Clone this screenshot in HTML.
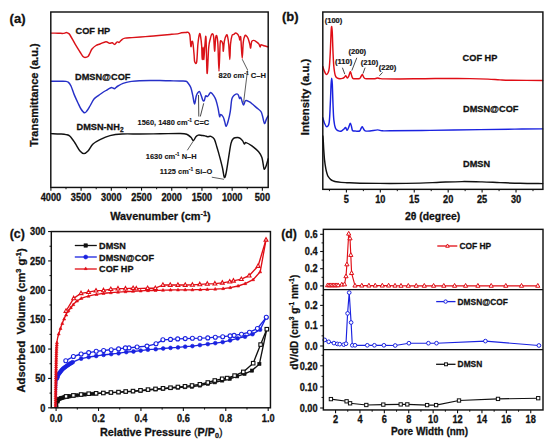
<!DOCTYPE html>
<html><head><meta charset="utf-8"><style>
html,body{margin:0;padding:0;background:#fff;width:550px;height:444px;overflow:hidden}
svg{display:block}
text{font-family:"Liberation Sans",sans-serif;stroke:#111;stroke-width:0.28px}
</style></head><body>
<svg width="550" height="444" viewBox="0 0 550 444" font-family="Liberation Sans, sans-serif" fill="#111">
<rect width="550" height="444" fill="#fff"/>
<text x="9.6" y="23.2" font-size="13" font-weight="bold" text-anchor="start" >(a)</text>
<text transform="translate(38.3,95.15) rotate(-90)" font-size="10.7" font-weight="bold" text-anchor="middle" textLength="103.8" lengthAdjust="spacingAndGlyphs">Transmittance (a.u.)</text>
<path d="M51.00,33.10 C52.17,33.12 56.00,33.15 58.00,33.20 C60.00,33.25 61.78,33.45 63.00,33.40 C64.22,33.35 64.67,33.03 65.30,32.90 C65.93,32.77 66.30,32.53 66.80,32.60 C67.30,32.67 67.77,32.90 68.30,33.30 C68.83,33.70 68.83,33.15 70.00,35.00 C71.17,36.85 73.63,41.57 75.30,44.40 C76.97,47.23 78.72,49.98 80.00,52.00 C81.28,54.02 82.17,55.60 83.00,56.50 C83.83,57.40 84.17,57.40 85.00,57.40 C85.83,57.40 87.17,57.23 88.00,56.50 C88.83,55.77 89.33,54.25 90.00,53.00 C90.67,51.75 91.00,50.25 92.00,49.00 C93.00,47.75 94.67,46.33 96.00,45.50 C97.33,44.67 98.35,44.63 100.00,44.00 C101.65,43.37 104.32,41.83 105.90,41.70 C107.48,41.57 108.43,43.02 109.50,43.20 C110.57,43.38 111.45,42.60 112.30,42.80 C113.15,43.00 113.78,44.55 114.60,44.40 C115.42,44.25 116.47,42.22 117.20,41.90 C117.93,41.58 118.45,42.65 119.00,42.50 C119.55,42.35 119.95,41.53 120.50,41.00 C121.05,40.47 121.55,39.78 122.30,39.30 C123.05,38.82 123.38,38.38 125.00,38.10 C126.62,37.82 129.42,37.78 132.00,37.60 C134.58,37.42 137.50,37.23 140.50,37.00 C143.50,36.77 146.98,36.45 150.00,36.20 C153.02,35.95 155.27,35.78 158.60,35.50 C161.93,35.22 166.67,34.82 170.00,34.50 C173.33,34.18 176.70,33.88 178.60,33.60 C180.50,33.32 180.17,32.98 181.40,32.80 C182.63,32.62 184.87,32.57 186.00,32.50 C187.13,32.43 187.57,31.98 188.20,32.40 C188.83,32.82 189.35,32.65 189.80,35.00 C190.25,37.35 190.55,45.42 190.90,46.50 C191.25,47.58 191.55,42.00 191.90,41.50 C192.25,41.00 192.63,41.25 193.00,43.50 C193.37,45.75 193.82,51.95 194.10,55.00 C194.38,58.05 194.27,60.67 194.70,61.80 C195.13,62.93 196.17,64.73 196.70,61.80 C197.23,58.87 197.43,48.83 197.90,44.20 C198.37,39.57 199.05,35.27 199.50,34.00 C199.95,32.73 200.23,34.53 200.60,36.60 C200.97,38.67 201.43,42.60 201.70,46.40 C201.97,50.20 201.95,59.27 202.20,59.40 C202.45,59.53 202.93,47.20 203.20,47.20 C203.47,47.20 203.52,59.72 203.80,59.40 C204.08,59.08 204.53,48.92 204.90,45.30 C205.27,41.68 205.63,33.02 206.00,37.70 C206.37,42.38 206.65,71.77 207.10,73.40 C207.55,75.03 208.17,53.27 208.70,47.50 C209.23,41.73 209.77,41.05 210.30,38.80 C210.83,36.55 211.35,34.37 211.90,34.00 C212.45,33.63 213.15,33.73 213.60,36.60 C214.05,39.47 214.25,51.02 214.60,51.20 C214.95,51.38 215.33,40.22 215.70,37.70 C216.07,35.18 216.43,35.02 216.80,36.10 C217.17,37.18 217.53,38.35 217.90,44.20 C218.27,50.05 218.63,71.20 219.00,71.20 C219.37,71.20 219.75,49.23 220.10,44.20 C220.45,39.17 220.65,41.00 221.10,41.00 C221.55,41.00 222.43,42.50 222.80,44.20 C223.17,45.90 223.03,51.73 223.30,51.20 C223.57,50.67 223.87,43.70 224.40,41.00 C224.93,38.30 225.97,35.73 226.50,35.00 C227.03,34.27 227.23,35.07 227.60,36.60 C227.97,38.13 228.33,40.40 228.70,44.20 C229.07,48.00 229.50,59.40 229.80,59.40 C230.10,59.40 230.13,48.17 230.50,44.20 C230.87,40.23 231.48,37.22 232.00,35.60 C232.52,33.98 232.98,34.95 233.60,34.50 C234.22,34.05 234.98,32.90 235.70,32.90 C236.42,32.90 237.32,33.78 237.90,34.50 C238.48,35.22 238.88,36.30 239.20,37.20 C239.52,38.10 239.57,40.00 239.80,39.90 C240.03,39.80 240.38,36.23 240.60,36.60 C240.82,36.97 240.83,38.48 241.10,42.10 C241.37,45.72 241.83,58.30 242.20,58.30 C242.57,58.30 242.85,45.88 243.30,42.10 C243.75,38.32 244.37,36.60 244.90,35.60 C245.43,34.60 245.95,35.57 246.50,36.10 C247.05,36.63 247.65,37.45 248.20,38.80 C248.75,40.15 249.40,42.67 249.80,44.20 C250.20,45.73 250.28,48.45 250.60,48.00 C250.92,47.55 251.20,42.77 251.70,41.50 C252.20,40.23 252.75,40.30 253.60,40.40 C254.45,40.50 255.90,41.47 256.80,42.10 C257.70,42.73 258.45,43.40 259.00,44.20 C259.55,45.00 259.75,46.80 260.10,46.90 C260.45,47.00 260.48,44.98 261.10,44.80 C261.72,44.62 262.62,45.45 263.80,45.80 C264.98,46.15 267.47,46.72 268.20,46.90" fill="none" stroke="#da1218" stroke-width="1.45" stroke-linejoin="round" stroke-linecap="round"/>
<path d="M51.00,81.30 C52.50,81.30 57.50,81.28 60.00,81.30 C62.50,81.32 64.58,81.22 66.00,81.40 C67.42,81.58 67.67,81.63 68.50,82.40 C69.33,83.17 70.05,83.97 71.00,86.00 C71.95,88.03 73.03,91.77 74.20,94.60 C75.37,97.43 76.87,100.60 78.00,103.00 C79.13,105.40 79.93,107.37 81.00,109.00 C82.07,110.63 83.40,112.50 84.40,112.80 C85.40,113.10 86.07,111.93 87.00,110.80 C87.93,109.67 88.83,107.97 90.00,106.00 C91.17,104.03 92.67,100.70 94.00,99.00 C95.33,97.30 96.67,96.80 98.00,95.80 C99.33,94.80 100.67,93.88 102.00,93.00 C103.33,92.12 104.67,91.30 106.00,90.50 C107.33,89.70 109.00,88.68 110.00,88.20 C111.00,87.72 111.27,87.50 112.00,87.60 C112.73,87.70 113.73,88.82 114.40,88.80 C115.07,88.78 115.40,87.97 116.00,87.50 C116.60,87.03 116.83,86.68 118.00,86.00 C119.17,85.32 121.00,84.13 123.00,83.40 C125.00,82.67 127.17,82.03 130.00,81.60 C132.83,81.17 136.67,80.98 140.00,80.80 C143.33,80.62 146.67,80.55 150.00,80.50 C153.33,80.45 156.67,80.45 160.00,80.50 C163.33,80.55 166.67,80.72 170.00,80.80 C173.33,80.88 177.33,80.93 180.00,81.00 C182.67,81.07 184.67,80.87 186.00,81.20 C187.33,81.53 187.20,81.95 188.00,83.00 C188.80,84.05 190.00,85.40 190.80,87.50 C191.60,89.60 192.18,92.85 192.80,95.60 C193.42,98.35 193.93,103.90 194.50,104.00 C195.07,104.10 195.70,98.00 196.20,96.20 C196.70,94.40 196.95,93.98 197.50,93.20 C198.05,92.42 198.88,91.10 199.50,91.50 C200.12,91.90 200.63,94.13 201.20,95.60 C201.77,97.07 202.38,99.47 202.90,100.30 C203.42,101.13 203.85,101.33 204.30,100.60 C204.75,99.87 205.10,96.57 205.60,95.90 C206.10,95.23 206.73,96.82 207.30,96.60 C207.87,96.38 208.43,95.28 209.00,94.60 C209.57,93.92 209.92,92.33 210.70,92.50 C211.48,92.67 212.82,94.32 213.70,95.60 C214.58,96.88 215.27,98.07 216.00,100.20 C216.73,102.33 217.50,105.68 218.10,108.40 C218.70,111.12 219.18,115.48 219.60,116.50 C220.02,117.52 220.00,114.42 220.60,114.50 C221.20,114.58 222.52,115.82 223.20,117.00 C223.88,118.18 224.20,120.05 224.70,121.60 C225.20,123.15 225.60,126.47 226.20,126.30 C226.80,126.13 227.62,123.08 228.30,120.60 C228.98,118.12 229.72,114.97 230.30,111.40 C230.88,107.83 231.20,101.83 231.80,99.20 C232.40,96.57 233.05,96.48 233.90,95.60 C234.75,94.72 236.15,93.98 236.90,93.90 C237.65,93.82 237.97,94.33 238.40,95.10 C238.83,95.87 239.12,98.15 239.50,98.50 C239.88,98.85 240.28,96.75 240.70,97.20 C241.12,97.65 241.53,99.90 242.00,101.20 C242.47,102.50 242.90,105.08 243.50,105.00 C244.10,104.92 244.67,101.25 245.60,100.70 C246.53,100.15 247.92,101.10 249.10,101.70 C250.28,102.30 251.42,103.27 252.70,104.30 C253.98,105.33 255.45,106.72 256.80,107.90 C258.15,109.08 259.87,110.13 260.80,111.40 C261.73,112.67 261.80,113.50 262.40,115.50 C263.00,117.50 263.73,122.80 264.40,123.40 C265.07,124.00 265.77,120.37 266.40,119.10 C267.03,117.83 267.90,116.35 268.20,115.80" fill="none" stroke="#2630c8" stroke-width="1.45" stroke-linejoin="round" stroke-linecap="round"/>
<path d="M51.00,133.60 C52.50,133.67 57.50,133.83 60.00,134.00 C62.50,134.17 64.33,134.23 66.00,134.60 C67.67,134.97 68.50,134.80 70.00,136.20 C71.50,137.60 73.33,140.53 75.00,143.00 C76.67,145.47 78.50,149.23 80.00,151.00 C81.50,152.77 82.67,153.60 84.00,153.60 C85.33,153.60 86.50,152.60 88.00,151.00 C89.50,149.40 91.00,145.90 93.00,144.00 C95.00,142.10 97.17,141.00 100.00,139.60 C102.83,138.20 106.33,136.53 110.00,135.60 C113.67,134.67 117.00,134.27 122.00,134.00 C127.00,133.73 133.67,134.03 140.00,134.00 C146.33,133.97 153.33,133.88 160.00,133.80 C166.67,133.72 175.55,133.43 180.00,133.50 C184.45,133.57 184.88,133.57 186.70,134.20 C188.52,134.83 189.78,136.23 190.90,137.30 C192.02,138.37 192.57,140.70 193.40,140.60 C194.23,140.50 195.07,137.62 195.90,136.70 C196.73,135.78 197.38,135.30 198.40,135.10 C199.42,134.90 200.88,135.37 202.00,135.50 C203.12,135.63 204.17,135.70 205.10,135.90 C206.03,136.10 206.63,136.62 207.60,136.70 C208.57,136.78 209.78,135.98 210.90,136.40 C212.02,136.82 213.32,137.48 214.30,139.20 C215.28,140.92 216.10,144.48 216.80,146.70 C217.50,148.92 217.95,150.55 218.50,152.50 C219.05,154.45 219.42,155.73 220.10,158.40 C220.78,161.07 221.90,165.35 222.60,168.50 C223.30,171.65 223.73,176.47 224.30,177.30 C224.87,178.13 225.30,176.65 226.00,173.50 C226.70,170.35 227.67,163.42 228.50,158.40 C229.33,153.38 230.17,146.73 231.00,143.40 C231.83,140.07 232.38,139.38 233.50,138.40 C234.62,137.42 236.58,137.50 237.70,137.50 C238.82,137.50 239.37,137.83 240.20,138.40 C241.03,138.97 242.00,139.97 242.70,140.90 C243.40,141.83 243.83,143.72 244.40,144.00 C244.97,144.28 244.85,142.28 246.10,142.60 C247.35,142.92 249.82,144.37 251.90,145.90 C253.98,147.43 256.93,149.85 258.60,151.80 C260.27,153.75 261.07,155.10 261.90,157.60 C262.73,160.10 263.18,164.85 263.60,166.80 C264.02,168.75 263.98,169.43 264.40,169.30 C264.82,169.17 265.47,167.75 266.10,166.00 C266.73,164.25 267.85,160.00 268.20,158.80" fill="none" stroke="#111" stroke-width="1.45" stroke-linejoin="round" stroke-linecap="round"/>
<text x="75.5" y="34.2" font-size="9.2" font-weight="bold" text-anchor="start" >COF HP</text>
<text x="75.0" y="80.4" font-size="9.2" font-weight="bold" text-anchor="start" >DMSN@COF</text>
<text x="76.5" y="130.4" font-size="9.2" font-weight="bold" text-anchor="start" >DMSN-NH<tspan font-size="6.5" dy="2">2</tspan></text>
<text x="218.5" y="78.2" font-size="7.6" font-weight="bold" text-anchor="start" style="stroke-width:0.1px">820 cm<tspan font-size="5" dy="-3">-1</tspan><tspan dy="3"> C–H</tspan></text>
<line x1="242.2" y1="59.2" x2="247.6" y2="70.0" stroke="#333" stroke-width="0.8"/>
<line x1="243.6" y1="102.5" x2="247.5" y2="70.5" stroke="#333" stroke-width="0.8"/>
<text x="137.5" y="125.0" font-size="7.6" font-weight="bold" text-anchor="start" style="stroke-width:0.1px" textLength="71.7" lengthAdjust="spacingAndGlyphs">1560, 1480 cm<tspan font-size="5" dy="-3">-1</tspan><tspan dy="3"> C=C</tspan></text>
<line x1="198.5" y1="95" x2="198.8" y2="116.5" stroke="#333" stroke-width="0.9"/>
<line x1="203.7" y1="103.3" x2="200.3" y2="116.5" stroke="#333" stroke-width="0.9"/>
<text x="145.8" y="159.3" font-size="7.6" font-weight="bold" text-anchor="start" style="stroke-width:0.1px" textLength="50.8" lengthAdjust="spacingAndGlyphs">1630 cm<tspan font-size="5" dy="-3">-1</tspan><tspan dy="3"> N–H</tspan></text>
<line x1="193.2" y1="141.2" x2="187.3" y2="150.3" stroke="#333" stroke-width="0.8"/>
<text x="159.8" y="174.3" font-size="7.6" font-weight="bold" text-anchor="start" style="stroke-width:0.1px" textLength="52.4" lengthAdjust="spacingAndGlyphs">1125 cm<tspan font-size="5" dy="-3">-1</tspan><tspan dy="3"> Si–O</tspan></text>
<line x1="211.8" y1="177.2" x2="224.0" y2="179.3" stroke="#333" stroke-width="0.8"/>
<rect x="50.8" y="12.0" width="217.39999999999998" height="175.45" fill="none" stroke="#111" stroke-width="1.45"/>
<line x1="50.9" y1="187.45" x2="50.9" y2="190.64999999999998" stroke="#111" stroke-width="1.1"/>
<line x1="81.11" y1="187.45" x2="81.11" y2="190.64999999999998" stroke="#111" stroke-width="1.1"/>
<line x1="111.32" y1="187.45" x2="111.32" y2="190.64999999999998" stroke="#111" stroke-width="1.1"/>
<line x1="141.53" y1="187.45" x2="141.53" y2="190.64999999999998" stroke="#111" stroke-width="1.1"/>
<line x1="171.74" y1="187.45" x2="171.74" y2="190.64999999999998" stroke="#111" stroke-width="1.1"/>
<line x1="201.95000000000002" y1="187.45" x2="201.95000000000002" y2="190.64999999999998" stroke="#111" stroke-width="1.1"/>
<line x1="232.16" y1="187.45" x2="232.16" y2="190.64999999999998" stroke="#111" stroke-width="1.1"/>
<line x1="262.37" y1="187.45" x2="262.37" y2="190.64999999999998" stroke="#111" stroke-width="1.1"/>
<line x1="66.005" y1="187.45" x2="66.005" y2="189.25" stroke="#111" stroke-width="1.0"/>
<line x1="96.215" y1="187.45" x2="96.215" y2="189.25" stroke="#111" stroke-width="1.0"/>
<line x1="126.42500000000001" y1="187.45" x2="126.42500000000001" y2="189.25" stroke="#111" stroke-width="1.0"/>
<line x1="156.635" y1="187.45" x2="156.635" y2="189.25" stroke="#111" stroke-width="1.0"/>
<line x1="186.845" y1="187.45" x2="186.845" y2="189.25" stroke="#111" stroke-width="1.0"/>
<line x1="217.055" y1="187.45" x2="217.055" y2="189.25" stroke="#111" stroke-width="1.0"/>
<line x1="247.26500000000001" y1="187.45" x2="247.26500000000001" y2="189.25" stroke="#111" stroke-width="1.0"/>
<text transform="translate(50.90,201.44) scale(0.96,1.1)" font-size="9.6" font-weight="bold" text-anchor="middle" >4000</text>
<text transform="translate(81.11,201.44) scale(0.96,1.1)" font-size="9.6" font-weight="bold" text-anchor="middle" >3500</text>
<text transform="translate(111.32,201.44) scale(0.96,1.1)" font-size="9.6" font-weight="bold" text-anchor="middle" >3000</text>
<text transform="translate(141.53,201.44) scale(0.96,1.1)" font-size="9.6" font-weight="bold" text-anchor="middle" >2500</text>
<text transform="translate(171.74,201.44) scale(0.96,1.1)" font-size="9.6" font-weight="bold" text-anchor="middle" >2000</text>
<text transform="translate(201.95,201.44) scale(0.96,1.1)" font-size="9.6" font-weight="bold" text-anchor="middle" >1500</text>
<text transform="translate(232.16,201.44) scale(0.96,1.1)" font-size="9.6" font-weight="bold" text-anchor="middle" >1000</text>
<text transform="translate(262.37,201.44) scale(0.96,1.1)" font-size="9.6" font-weight="bold" text-anchor="middle" >500</text>
<text x="160.4" y="219.5" font-size="10.4" font-weight="bold" text-anchor="middle" textLength="100.4" lengthAdjust="spacingAndGlyphs">Wavenumber (cm<tspan font-size="7" dy="-4">-1</tspan><tspan dy="4">)</tspan></text>
<text x="282.0" y="21.3" font-size="13" font-weight="bold" text-anchor="start" >(b)</text>
<text transform="translate(309.2,97.0) rotate(-90)" font-size="10.7" font-weight="bold" text-anchor="middle" textLength="76.3" lengthAdjust="spacingAndGlyphs">Intensity (a.u.)</text>
<path d="M322.80,66.60 C323.05,67.33 323.73,69.70 324.30,71.00 C324.87,72.30 325.55,74.15 326.20,74.40 C326.85,74.65 327.68,73.65 328.20,72.50 C328.72,71.35 328.95,70.92 329.30,67.50 C329.65,64.08 330.00,57.92 330.30,52.00 C330.60,46.08 330.87,36.23 331.10,32.00 C331.33,27.77 331.50,26.43 331.70,26.60 C331.90,26.77 332.08,28.77 332.30,33.00 C332.52,37.23 332.75,46.50 333.00,52.00 C333.25,57.50 333.42,62.08 333.80,66.00 C334.18,69.92 334.68,73.47 335.30,75.50 C335.92,77.53 336.75,77.65 337.50,78.20 C338.25,78.75 338.97,78.77 339.80,78.80 C340.63,78.83 341.75,78.63 342.50,78.40 C343.25,78.17 343.75,77.83 344.30,77.40 C344.85,76.97 345.30,75.70 345.80,75.80 C346.30,75.90 346.83,77.88 347.30,78.00 C347.77,78.12 348.10,77.53 348.60,76.50 C349.10,75.47 349.80,71.97 350.30,71.80 C350.80,71.63 351.18,74.42 351.60,75.50 C352.02,76.58 352.07,77.75 352.80,78.30 C353.53,78.85 354.87,78.77 356.00,78.80 C357.13,78.83 358.77,78.88 359.60,78.50 C360.43,78.12 360.55,77.17 361.00,76.50 C361.45,75.83 361.87,74.42 362.30,74.50 C362.73,74.58 363.12,76.32 363.60,77.00 C364.08,77.68 364.13,78.30 365.20,78.60 C366.27,78.90 368.37,78.78 370.00,78.80 C371.63,78.82 373.72,78.83 375.00,78.70 C376.28,78.57 376.87,78.02 377.70,78.00 C378.53,77.98 378.78,78.45 380.00,78.60 C381.22,78.75 381.67,78.83 385.00,78.90 C388.33,78.97 393.33,79.03 400.00,79.00 C406.67,78.97 417.50,78.78 425.00,78.70 C432.50,78.62 437.50,78.52 445.00,78.50 C452.50,78.48 462.83,78.50 470.00,78.60 C477.17,78.70 483.00,78.88 488.00,79.10 C493.00,79.32 496.00,79.70 500.00,79.90 C504.00,80.10 504.88,80.22 512.00,80.30 C519.12,80.38 537.58,80.38 542.70,80.40" fill="none" stroke="#e00d15" stroke-width="1.45" stroke-linejoin="round" stroke-linecap="round"/>
<path d="M322.80,117.70 C323.08,118.62 323.83,121.68 324.50,123.20 C325.17,124.72 326.02,126.95 326.80,126.80 C327.58,126.65 328.62,126.10 329.20,122.30 C329.78,118.50 329.98,110.38 330.30,104.00 C330.62,97.62 330.87,88.32 331.10,84.00 C331.33,79.68 331.50,78.10 331.70,78.10 C331.90,78.10 332.08,79.68 332.30,84.00 C332.52,88.32 332.75,98.08 333.00,104.00 C333.25,109.92 333.38,115.47 333.80,119.50 C334.22,123.53 334.72,126.30 335.50,128.20 C336.28,130.10 337.48,130.43 338.50,130.90 C339.52,131.37 340.68,131.32 341.60,131.00 C342.52,130.68 343.33,129.58 344.00,129.00 C344.67,128.42 345.08,127.28 345.60,127.50 C346.12,127.72 346.60,130.30 347.10,130.30 C347.60,130.30 348.07,128.68 348.60,127.50 C349.13,126.32 349.80,123.28 350.30,123.20 C350.80,123.12 351.22,125.77 351.60,127.00 C351.98,128.23 351.87,129.92 352.60,130.60 C353.33,131.28 354.83,131.03 356.00,131.10 C357.17,131.17 358.77,131.43 359.60,131.00 C360.43,130.57 360.55,129.20 361.00,128.50 C361.45,127.80 361.87,126.72 362.30,126.80 C362.73,126.88 363.12,128.32 363.60,129.00 C364.08,129.68 364.13,130.57 365.20,130.90 C366.27,131.23 367.92,131.17 370.00,131.00 C372.08,130.83 375.70,129.93 377.70,129.90 C379.70,129.87 379.95,130.65 382.00,130.80 C384.05,130.95 382.00,130.87 390.00,130.80 C398.00,130.73 415.00,130.60 430.00,130.40 C445.00,130.20 465.83,129.82 480.00,129.60 C494.17,129.38 504.55,129.22 515.00,129.10 C525.45,128.98 538.08,128.93 542.70,128.90" fill="none" stroke="#1a22e0" stroke-width="1.45" stroke-linejoin="round" stroke-linecap="round"/>
<path d="M322.80,136.00 C322.88,136.92 323.15,139.33 323.30,141.50 C323.45,143.67 323.50,145.98 323.70,149.00 C323.90,152.02 324.15,156.33 324.50,159.60 C324.85,162.87 325.38,166.28 325.80,168.60 C326.22,170.92 326.62,172.20 327.00,173.50 C327.38,174.80 327.47,175.38 328.10,176.40 C328.73,177.42 329.90,178.83 330.80,179.60 C331.70,180.37 332.60,180.63 333.50,181.00 C334.40,181.37 334.95,181.57 336.20,181.80 C337.45,182.03 339.20,182.25 341.00,182.40 C342.80,182.55 343.83,182.57 347.00,182.70 C350.17,182.83 352.83,183.08 360.00,183.20 C367.17,183.32 380.00,183.42 390.00,183.40 C400.00,183.38 411.67,183.28 420.00,183.10 C428.33,182.92 433.00,182.55 440.00,182.30 C447.00,182.05 455.00,181.67 462.00,181.60 C469.00,181.53 475.67,181.73 482.00,181.90 C488.33,182.07 493.67,182.37 500.00,182.60 C506.33,182.83 512.88,183.13 520.00,183.30 C527.12,183.47 538.92,183.55 542.70,183.60" fill="none" stroke="#111" stroke-width="1.45" stroke-linejoin="round" stroke-linecap="round"/>
<text x="333.5" y="23.2" font-size="7.6" font-weight="bold" text-anchor="middle" style="stroke-width:0.2px">(100)</text>
<text x="343.7" y="64.4" font-size="7.6" font-weight="bold" text-anchor="middle" style="stroke-width:0.2px">(110)</text>
<text x="357.3" y="53.6" font-size="7.6" font-weight="bold" text-anchor="middle" style="stroke-width:0.2px">(200)</text>
<text x="369.5" y="64.5" font-size="7.6" font-weight="bold" text-anchor="middle" style="stroke-width:0.2px">(210)</text>
<text x="387.5" y="70.2" font-size="7.6" font-weight="bold" text-anchor="middle" style="stroke-width:0.2px">(220)</text>
<line x1="342.4" y1="67.7" x2="344.8" y2="74.2" stroke="#333" stroke-width="0.9"/>
<line x1="356.8" y1="57.8" x2="351.8" y2="70.6" stroke="#333" stroke-width="0.9"/>
<line x1="365.1" y1="67.7" x2="363.0" y2="73.5" stroke="#333" stroke-width="0.9"/>
<line x1="382.6" y1="72.4" x2="379.4" y2="75.8" stroke="#333" stroke-width="0.9"/>
<text x="462.6" y="61.0" font-size="9.2" font-weight="bold" text-anchor="start" >COF HP</text>
<text x="463.0" y="112.0" font-size="9.2" font-weight="bold" text-anchor="start" >DMSN@COF</text>
<text x="463.0" y="166.5" font-size="9.2" font-weight="bold" text-anchor="start" >DMSN</text>
<rect x="322.8" y="12.0" width="220.09999999999997" height="177.35" fill="none" stroke="#111" stroke-width="1.45"/>
<line x1="346.4" y1="189.35" x2="346.4" y2="192.54999999999998" stroke="#111" stroke-width="1.1"/>
<line x1="380.325" y1="189.35" x2="380.325" y2="192.54999999999998" stroke="#111" stroke-width="1.1"/>
<line x1="414.25" y1="189.35" x2="414.25" y2="192.54999999999998" stroke="#111" stroke-width="1.1"/>
<line x1="448.17499999999995" y1="189.35" x2="448.17499999999995" y2="192.54999999999998" stroke="#111" stroke-width="1.1"/>
<line x1="482.09999999999997" y1="189.35" x2="482.09999999999997" y2="192.54999999999998" stroke="#111" stroke-width="1.1"/>
<line x1="516.025" y1="189.35" x2="516.025" y2="192.54999999999998" stroke="#111" stroke-width="1.1"/>
<line x1="329.4375" y1="189.35" x2="329.4375" y2="191.15" stroke="#111" stroke-width="1.0"/>
<line x1="363.36249999999995" y1="189.35" x2="363.36249999999995" y2="191.15" stroke="#111" stroke-width="1.0"/>
<line x1="397.28749999999997" y1="189.35" x2="397.28749999999997" y2="191.15" stroke="#111" stroke-width="1.0"/>
<line x1="431.2125" y1="189.35" x2="431.2125" y2="191.15" stroke="#111" stroke-width="1.0"/>
<line x1="465.1375" y1="189.35" x2="465.1375" y2="191.15" stroke="#111" stroke-width="1.0"/>
<line x1="499.0625" y1="189.35" x2="499.0625" y2="191.15" stroke="#111" stroke-width="1.0"/>
<line x1="532.9875" y1="189.35" x2="532.9875" y2="191.15" stroke="#111" stroke-width="1.0"/>
<text transform="translate(346.40,203.24) scale(0.96,1.1)" font-size="9.6" font-weight="bold" text-anchor="middle" >5</text>
<text transform="translate(380.32,203.24) scale(0.96,1.1)" font-size="9.6" font-weight="bold" text-anchor="middle" >10</text>
<text transform="translate(414.25,203.24) scale(0.96,1.1)" font-size="9.6" font-weight="bold" text-anchor="middle" >15</text>
<text transform="translate(448.17,203.24) scale(0.96,1.1)" font-size="9.6" font-weight="bold" text-anchor="middle" >20</text>
<text transform="translate(482.10,203.24) scale(0.96,1.1)" font-size="9.6" font-weight="bold" text-anchor="middle" >25</text>
<text transform="translate(516.02,203.24) scale(0.96,1.1)" font-size="9.6" font-weight="bold" text-anchor="middle" >30</text>
<text x="432.6" y="219.6" font-size="10.4" font-weight="bold" text-anchor="middle" >2θ (degree)</text>
<text x="9.7" y="238.1" font-size="13" font-weight="bold" text-anchor="start"  textLength="15.2" lengthAdjust="spacingAndGlyphs">(c)</text>
<text transform="translate(25.0,320.4) rotate(-90)" font-size="10.5" font-weight="bold" text-anchor="middle" textLength="144" lengthAdjust="spacingAndGlyphs">Adsorbed&#160; Volume (cm<tspan font-size="7" dy="-4">3</tspan><tspan dy="4"> g</tspan><tspan font-size="7" dy="-4">-1</tspan><tspan dy="4">)</tspan></text>
<polyline points="57.8,407.6 57.5,403.0 57.6,400.2 58.5,399.2 60.0,398.6 62.0,397.9 64.0,397.3 66.0,396.9 68.0,396.5 70.0,396.2 73.4,395.7 77.0,395.3 81.1,394.9 84.9,394.5 88.7,394.1 92.5,393.8 96.1,393.5 103.3,393.1 110.9,392.7 118.5,392.3 125.7,391.8 133.0,391.3 140.5,390.8 148.0,390.1 155.5,389.4 163.0,388.8 170.5,388.2 178.0,387.6 185.0,387.2 192.0,386.7 199.9,385.5 207.8,383.8 214.8,382.3 222.2,380.5 229.7,378.8 237.1,376.3 244.5,373.9 252.0,370.6 259.4,363.9 266.8,329.2" fill="none" stroke="#111" stroke-width="1.35" stroke-linejoin="round" stroke-linecap="round" />
<polyline points="266.8,329.2 260.6,344.6 253.2,363.2 243.3,371.9 234.6,375.6 227.2,378.1 222.2,378.8 214.8,380.5 207.8,382.5 199.9,384.3 192.0,385.5 185.0,386.3 177.9,387.0 170.5,387.7 163.0,388.3 155.5,388.9 148.0,389.6 140.5,390.3 133.0,391.1 125.7,391.5 118.5,392.1 110.9,392.5 103.3,393.0 96.1,393.3 88.7,393.7 81.1,394.5 73.4,395.4 66.1,396.4" fill="none" stroke="#111" stroke-width="1.35" stroke-linejoin="round" stroke-linecap="round" />
<polyline points="56.0,407.5 56.2,398.0 56.4,390.0 56.7,384.0 57.0,378.5 58.0,375.0 60.0,372.3 62.6,369.0 65.8,366.6 69.5,364.0 73.4,361.8 77.3,360.1 81.1,358.7 84.9,357.8 88.7,357.1 92.5,356.5 96.2,356.0 100.0,355.4 103.6,354.9 107.4,354.5 111.2,354.1 114.9,353.7 118.6,353.3 122.3,352.6 126.3,352.1 133.5,351.5 140.7,350.6 147.9,349.7 155.7,349.2 163.2,348.5 170.5,347.9 178.0,347.4 185.2,346.7 192.4,346.1 199.9,345.1 207.8,344.1 215.3,343.1 222.7,342.1 230.1,340.4 237.6,338.4 245.0,336.7 252.5,334.2 260.1,329.7 266.3,317.3" fill="none" stroke="#1a22e0" stroke-width="1.35" stroke-linejoin="round" stroke-linecap="round" />
<polyline points="266.3,317.3 257.4,328.5 249.5,332.2 241.5,334.2 234.1,335.4 230.1,335.9 222.7,336.7 215.3,337.2 207.8,337.9 199.9,338.2 192.4,338.3 185.2,338.6 177.7,338.9 170.5,339.4 162.9,339.8 156.0,343.8 147.0,346.1 137.1,347.0 129.0,347.9 125.4,347.9 118.6,348.9 111.2,349.7 103.6,350.5 96.2,351.3 88.7,352.6 81.1,354.0 73.4,356.5 65.8,360.7" fill="none" stroke="#1a22e0" stroke-width="1.35" stroke-linejoin="round" stroke-linecap="round" />
<polyline points="55.4,407.5 55.5,398.0 55.6,388.0 55.7,378.0 55.9,368.0 56.1,358.0 56.4,348.0 56.9,342.0 57.6,338.0 58.7,333.9 60.0,330.0 61.0,326.8 62.2,323.5 63.4,320.5 64.6,317.6 65.8,315.0 67.0,312.6 68.5,310.6 70.4,308.6 71.9,306.5 73.3,304.2 77.0,301.0 81.3,298.4 84.8,297.2 88.5,296.2 92.5,295.2 96.5,294.4 100.0,293.8 103.5,293.4 107.0,293.0 110.8,292.7 114.5,292.4 118.0,292.1 122.0,291.9 125.5,291.7 129.0,291.5 133.0,291.3 137.0,291.1 140.7,290.9 144.5,290.7 148.0,290.6 152.0,290.5 155.5,290.4 159.5,290.3 163.0,290.2 167.0,290.1 170.5,290.0 174.0,289.9 178.0,289.9 181.5,289.9 185.2,289.8 189.0,289.8 192.4,289.8 196.0,289.7 200.3,289.6 207.3,289.4 215.2,289.1 223.1,288.6 230.2,287.6 238.1,286.0 245.2,283.6 253.1,279.7 260.2,271.8 266.0,239.8" fill="none" stroke="#e00d15" stroke-width="1.35" stroke-linejoin="round" stroke-linecap="round" />
<polyline points="266.0,239.8 258.1,266.0 249.1,275.7 241.3,279.2 233.4,280.8 229.7,281.7 222.3,282.8 214.9,283.6 207.3,283.9 199.8,284.4 192.4,284.9 185.2,285.0 177.9,285.0 170.2,285.0 162.9,285.0 155.3,288.2 147.6,288.2 136.3,288.6 133.1,288.2 125.5,288.6 118.0,288.6 110.8,289.2 103.5,290.4 96.0,290.7 88.5,292.1 81.0,293.3 73.7,298.4 66.0,311.0" fill="none" stroke="#e00d15" stroke-width="1.35" stroke-linejoin="round" stroke-linecap="round" />
<rect x="56.00" y="399.90" width="3.2" height="3.2" fill="#111" stroke="#111" stroke-width="0.6"/>
<rect x="56.47" y="398.69" width="3.2" height="3.2" fill="#111" stroke="#111" stroke-width="0.6"/>
<rect x="57.02" y="397.55" width="3.2" height="3.2" fill="#111" stroke="#111" stroke-width="0.6"/>
<rect x="58.23" y="397.07" width="3.2" height="3.2" fill="#111" stroke="#111" stroke-width="0.6"/>
<rect x="59.45" y="396.63" width="3.2" height="3.2" fill="#111" stroke="#111" stroke-width="0.6"/>
<rect x="60.68" y="396.22" width="3.2" height="3.2" fill="#111" stroke="#111" stroke-width="0.6"/>
<rect x="61.93" y="395.84" width="3.2" height="3.2" fill="#111" stroke="#111" stroke-width="0.6"/>
<rect x="63.19" y="395.54" width="3.2" height="3.2" fill="#111" stroke="#111" stroke-width="0.6"/>
<rect x="64.47" y="395.29" width="3.2" height="3.2" fill="#111" stroke="#111" stroke-width="0.6"/>
<rect x="65.74" y="395.03" width="3.2" height="3.2" fill="#111" stroke="#111" stroke-width="0.6"/>
<rect x="67.02" y="394.81" width="3.2" height="3.2" fill="#111" stroke="#111" stroke-width="0.6"/>
<rect x="68.31" y="394.61" width="3.2" height="3.2" fill="#111" stroke="#111" stroke-width="0.6"/>
<rect x="71.80" y="394.10" width="3.2" height="3.2" fill="#111" stroke="#111" stroke-width="0.6"/>
<rect x="75.40" y="393.70" width="3.2" height="3.2" fill="#111" stroke="#111" stroke-width="0.6"/>
<rect x="79.50" y="393.30" width="3.2" height="3.2" fill="#111" stroke="#111" stroke-width="0.6"/>
<rect x="83.30" y="392.90" width="3.2" height="3.2" fill="#111" stroke="#111" stroke-width="0.6"/>
<rect x="87.10" y="392.50" width="3.2" height="3.2" fill="#111" stroke="#111" stroke-width="0.6"/>
<rect x="90.90" y="392.20" width="3.2" height="3.2" fill="#111" stroke="#111" stroke-width="0.6"/>
<rect x="94.50" y="391.90" width="3.2" height="3.2" fill="#111" stroke="#111" stroke-width="0.6"/>
<rect x="101.70" y="391.50" width="3.2" height="3.2" fill="#111" stroke="#111" stroke-width="0.6"/>
<rect x="109.30" y="391.10" width="3.2" height="3.2" fill="#111" stroke="#111" stroke-width="0.6"/>
<rect x="116.90" y="390.70" width="3.2" height="3.2" fill="#111" stroke="#111" stroke-width="0.6"/>
<rect x="124.10" y="390.20" width="3.2" height="3.2" fill="#111" stroke="#111" stroke-width="0.6"/>
<rect x="131.40" y="389.70" width="3.2" height="3.2" fill="#111" stroke="#111" stroke-width="0.6"/>
<rect x="138.90" y="389.20" width="3.2" height="3.2" fill="#111" stroke="#111" stroke-width="0.6"/>
<rect x="146.40" y="388.50" width="3.2" height="3.2" fill="#111" stroke="#111" stroke-width="0.6"/>
<rect x="153.90" y="387.80" width="3.2" height="3.2" fill="#111" stroke="#111" stroke-width="0.6"/>
<rect x="161.40" y="387.20" width="3.2" height="3.2" fill="#111" stroke="#111" stroke-width="0.6"/>
<rect x="168.90" y="386.60" width="3.2" height="3.2" fill="#111" stroke="#111" stroke-width="0.6"/>
<rect x="176.40" y="386.00" width="3.2" height="3.2" fill="#111" stroke="#111" stroke-width="0.6"/>
<rect x="183.40" y="385.60" width="3.2" height="3.2" fill="#111" stroke="#111" stroke-width="0.6"/>
<rect x="190.40" y="385.10" width="3.2" height="3.2" fill="#111" stroke="#111" stroke-width="0.6"/>
<rect x="198.30" y="383.90" width="3.2" height="3.2" fill="#111" stroke="#111" stroke-width="0.6"/>
<rect x="206.20" y="382.20" width="3.2" height="3.2" fill="#111" stroke="#111" stroke-width="0.6"/>
<rect x="213.20" y="380.70" width="3.2" height="3.2" fill="#111" stroke="#111" stroke-width="0.6"/>
<rect x="220.60" y="378.90" width="3.2" height="3.2" fill="#111" stroke="#111" stroke-width="0.6"/>
<rect x="228.10" y="377.20" width="3.2" height="3.2" fill="#111" stroke="#111" stroke-width="0.6"/>
<rect x="235.50" y="374.70" width="3.2" height="3.2" fill="#111" stroke="#111" stroke-width="0.6"/>
<rect x="242.90" y="372.30" width="3.2" height="3.2" fill="#111" stroke="#111" stroke-width="0.6"/>
<rect x="250.40" y="369.00" width="3.2" height="3.2" fill="#111" stroke="#111" stroke-width="0.6"/>
<rect x="257.80" y="362.30" width="3.2" height="3.2" fill="#111" stroke="#111" stroke-width="0.6"/>
<rect x="265.20" y="327.60" width="3.2" height="3.2" fill="#111" stroke="#111" stroke-width="0.6"/>
<rect x="265.05" y="327.45" width="3.5" height="3.5" fill="white" stroke="#111" stroke-width="1.1"/>
<rect x="258.85" y="342.85" width="3.5" height="3.5" fill="white" stroke="#111" stroke-width="1.1"/>
<rect x="251.45" y="361.45" width="3.5" height="3.5" fill="white" stroke="#111" stroke-width="1.1"/>
<rect x="241.55" y="370.15" width="3.5" height="3.5" fill="white" stroke="#111" stroke-width="1.1"/>
<rect x="232.85" y="373.85" width="3.5" height="3.5" fill="white" stroke="#111" stroke-width="1.1"/>
<rect x="225.45" y="376.35" width="3.5" height="3.5" fill="white" stroke="#111" stroke-width="1.1"/>
<rect x="220.45" y="377.05" width="3.5" height="3.5" fill="white" stroke="#111" stroke-width="1.1"/>
<rect x="213.05" y="378.75" width="3.5" height="3.5" fill="white" stroke="#111" stroke-width="1.1"/>
<rect x="206.05" y="380.75" width="3.5" height="3.5" fill="white" stroke="#111" stroke-width="1.1"/>
<rect x="198.15" y="382.55" width="3.5" height="3.5" fill="white" stroke="#111" stroke-width="1.1"/>
<rect x="190.25" y="383.75" width="3.5" height="3.5" fill="white" stroke="#111" stroke-width="1.1"/>
<rect x="183.25" y="384.55" width="3.5" height="3.5" fill="white" stroke="#111" stroke-width="1.1"/>
<rect x="176.15" y="385.25" width="3.5" height="3.5" fill="white" stroke="#111" stroke-width="1.1"/>
<rect x="168.75" y="385.95" width="3.5" height="3.5" fill="white" stroke="#111" stroke-width="1.1"/>
<rect x="161.25" y="386.55" width="3.5" height="3.5" fill="white" stroke="#111" stroke-width="1.1"/>
<rect x="153.75" y="387.15" width="3.5" height="3.5" fill="white" stroke="#111" stroke-width="1.1"/>
<rect x="146.25" y="387.85" width="3.5" height="3.5" fill="white" stroke="#111" stroke-width="1.1"/>
<rect x="138.75" y="388.55" width="3.5" height="3.5" fill="white" stroke="#111" stroke-width="1.1"/>
<rect x="131.25" y="389.35" width="3.5" height="3.5" fill="white" stroke="#111" stroke-width="1.1"/>
<rect x="123.95" y="389.75" width="3.5" height="3.5" fill="white" stroke="#111" stroke-width="1.1"/>
<rect x="116.75" y="390.35" width="3.5" height="3.5" fill="white" stroke="#111" stroke-width="1.1"/>
<rect x="109.15" y="390.75" width="3.5" height="3.5" fill="white" stroke="#111" stroke-width="1.1"/>
<rect x="101.55" y="391.25" width="3.5" height="3.5" fill="white" stroke="#111" stroke-width="1.1"/>
<rect x="94.35" y="391.55" width="3.5" height="3.5" fill="white" stroke="#111" stroke-width="1.1"/>
<rect x="86.95" y="391.95" width="3.5" height="3.5" fill="white" stroke="#111" stroke-width="1.1"/>
<rect x="79.35" y="392.75" width="3.5" height="3.5" fill="white" stroke="#111" stroke-width="1.1"/>
<rect x="71.65" y="393.65" width="3.5" height="3.5" fill="white" stroke="#111" stroke-width="1.1"/>
<rect x="64.35" y="394.65" width="3.5" height="3.5" fill="white" stroke="#111" stroke-width="1.1"/>
<circle cx="57.00" cy="378.50" r="1.9" fill="#1a22e0" stroke="#1a22e0" stroke-width="0.6"/>
<circle cx="57.36" cy="377.25" r="1.9" fill="#1a22e0" stroke="#1a22e0" stroke-width="0.6"/>
<circle cx="57.71" cy="376.00" r="1.9" fill="#1a22e0" stroke="#1a22e0" stroke-width="0.6"/>
<circle cx="58.15" cy="374.79" r="1.9" fill="#1a22e0" stroke="#1a22e0" stroke-width="0.6"/>
<circle cx="58.93" cy="373.75" r="1.9" fill="#1a22e0" stroke="#1a22e0" stroke-width="0.6"/>
<circle cx="59.70" cy="372.70" r="1.9" fill="#1a22e0" stroke="#1a22e0" stroke-width="0.6"/>
<circle cx="60.50" cy="371.67" r="1.9" fill="#1a22e0" stroke="#1a22e0" stroke-width="0.6"/>
<circle cx="61.30" cy="370.65" r="1.9" fill="#1a22e0" stroke="#1a22e0" stroke-width="0.6"/>
<circle cx="62.10" cy="369.63" r="1.9" fill="#1a22e0" stroke="#1a22e0" stroke-width="0.6"/>
<circle cx="63.00" cy="368.70" r="1.9" fill="#1a22e0" stroke="#1a22e0" stroke-width="0.6"/>
<circle cx="64.04" cy="367.92" r="1.9" fill="#1a22e0" stroke="#1a22e0" stroke-width="0.6"/>
<circle cx="65.08" cy="367.14" r="1.9" fill="#1a22e0" stroke="#1a22e0" stroke-width="0.6"/>
<circle cx="66.13" cy="366.37" r="1.9" fill="#1a22e0" stroke="#1a22e0" stroke-width="0.6"/>
<circle cx="67.19" cy="365.62" r="1.9" fill="#1a22e0" stroke="#1a22e0" stroke-width="0.6"/>
<circle cx="68.25" cy="364.88" r="1.9" fill="#1a22e0" stroke="#1a22e0" stroke-width="0.6"/>
<circle cx="69.32" cy="364.13" r="1.9" fill="#1a22e0" stroke="#1a22e0" stroke-width="0.6"/>
<circle cx="70.44" cy="363.47" r="1.9" fill="#1a22e0" stroke="#1a22e0" stroke-width="0.6"/>
<circle cx="71.57" cy="362.83" r="1.9" fill="#1a22e0" stroke="#1a22e0" stroke-width="0.6"/>
<circle cx="72.70" cy="362.19" r="1.9" fill="#1a22e0" stroke="#1a22e0" stroke-width="0.6"/>
<circle cx="81.10" cy="358.70" r="1.9" fill="#1a22e0" stroke="#1a22e0" stroke-width="0.6"/>
<circle cx="88.70" cy="357.10" r="1.9" fill="#1a22e0" stroke="#1a22e0" stroke-width="0.6"/>
<circle cx="96.20" cy="356.00" r="1.9" fill="#1a22e0" stroke="#1a22e0" stroke-width="0.6"/>
<circle cx="103.60" cy="354.90" r="1.9" fill="#1a22e0" stroke="#1a22e0" stroke-width="0.6"/>
<circle cx="111.20" cy="354.10" r="1.9" fill="#1a22e0" stroke="#1a22e0" stroke-width="0.6"/>
<circle cx="118.60" cy="353.30" r="1.9" fill="#1a22e0" stroke="#1a22e0" stroke-width="0.6"/>
<circle cx="126.30" cy="352.10" r="1.9" fill="#1a22e0" stroke="#1a22e0" stroke-width="0.6"/>
<circle cx="133.50" cy="351.50" r="1.9" fill="#1a22e0" stroke="#1a22e0" stroke-width="0.6"/>
<circle cx="140.70" cy="350.60" r="1.9" fill="#1a22e0" stroke="#1a22e0" stroke-width="0.6"/>
<circle cx="147.90" cy="349.70" r="1.9" fill="#1a22e0" stroke="#1a22e0" stroke-width="0.6"/>
<circle cx="155.70" cy="349.20" r="1.9" fill="#1a22e0" stroke="#1a22e0" stroke-width="0.6"/>
<circle cx="163.20" cy="348.50" r="1.9" fill="#1a22e0" stroke="#1a22e0" stroke-width="0.6"/>
<circle cx="170.50" cy="347.90" r="1.9" fill="#1a22e0" stroke="#1a22e0" stroke-width="0.6"/>
<circle cx="178.00" cy="347.40" r="1.9" fill="#1a22e0" stroke="#1a22e0" stroke-width="0.6"/>
<circle cx="185.20" cy="346.70" r="1.9" fill="#1a22e0" stroke="#1a22e0" stroke-width="0.6"/>
<circle cx="192.40" cy="346.10" r="1.9" fill="#1a22e0" stroke="#1a22e0" stroke-width="0.6"/>
<circle cx="199.90" cy="345.10" r="1.9" fill="#1a22e0" stroke="#1a22e0" stroke-width="0.6"/>
<circle cx="207.80" cy="344.10" r="1.9" fill="#1a22e0" stroke="#1a22e0" stroke-width="0.6"/>
<circle cx="215.30" cy="343.10" r="1.9" fill="#1a22e0" stroke="#1a22e0" stroke-width="0.6"/>
<circle cx="222.70" cy="342.10" r="1.9" fill="#1a22e0" stroke="#1a22e0" stroke-width="0.6"/>
<circle cx="230.10" cy="340.40" r="1.9" fill="#1a22e0" stroke="#1a22e0" stroke-width="0.6"/>
<circle cx="237.60" cy="338.40" r="1.9" fill="#1a22e0" stroke="#1a22e0" stroke-width="0.6"/>
<circle cx="245.00" cy="336.70" r="1.9" fill="#1a22e0" stroke="#1a22e0" stroke-width="0.6"/>
<circle cx="252.50" cy="334.20" r="1.9" fill="#1a22e0" stroke="#1a22e0" stroke-width="0.6"/>
<circle cx="260.10" cy="329.70" r="1.9" fill="#1a22e0" stroke="#1a22e0" stroke-width="0.6"/>
<circle cx="266.30" cy="317.30" r="1.9" fill="#1a22e0" stroke="#1a22e0" stroke-width="0.6"/>
<circle cx="266.30" cy="317.30" r="2.0" fill="white" stroke="#1a22e0" stroke-width="1.1"/>
<circle cx="257.40" cy="328.50" r="2.0" fill="white" stroke="#1a22e0" stroke-width="1.1"/>
<circle cx="249.50" cy="332.20" r="2.0" fill="white" stroke="#1a22e0" stroke-width="1.1"/>
<circle cx="241.50" cy="334.20" r="2.0" fill="white" stroke="#1a22e0" stroke-width="1.1"/>
<circle cx="234.10" cy="335.40" r="2.0" fill="white" stroke="#1a22e0" stroke-width="1.1"/>
<circle cx="230.10" cy="335.90" r="2.0" fill="white" stroke="#1a22e0" stroke-width="1.1"/>
<circle cx="222.70" cy="336.70" r="2.0" fill="white" stroke="#1a22e0" stroke-width="1.1"/>
<circle cx="215.30" cy="337.20" r="2.0" fill="white" stroke="#1a22e0" stroke-width="1.1"/>
<circle cx="207.80" cy="337.90" r="2.0" fill="white" stroke="#1a22e0" stroke-width="1.1"/>
<circle cx="199.90" cy="338.20" r="2.0" fill="white" stroke="#1a22e0" stroke-width="1.1"/>
<circle cx="192.40" cy="338.30" r="2.0" fill="white" stroke="#1a22e0" stroke-width="1.1"/>
<circle cx="185.20" cy="338.60" r="2.0" fill="white" stroke="#1a22e0" stroke-width="1.1"/>
<circle cx="177.70" cy="338.90" r="2.0" fill="white" stroke="#1a22e0" stroke-width="1.1"/>
<circle cx="170.50" cy="339.40" r="2.0" fill="white" stroke="#1a22e0" stroke-width="1.1"/>
<circle cx="162.90" cy="339.80" r="2.0" fill="white" stroke="#1a22e0" stroke-width="1.1"/>
<circle cx="156.00" cy="343.80" r="2.0" fill="white" stroke="#1a22e0" stroke-width="1.1"/>
<circle cx="147.00" cy="346.10" r="2.0" fill="white" stroke="#1a22e0" stroke-width="1.1"/>
<circle cx="137.10" cy="347.00" r="2.0" fill="white" stroke="#1a22e0" stroke-width="1.1"/>
<circle cx="129.00" cy="347.90" r="2.0" fill="white" stroke="#1a22e0" stroke-width="1.1"/>
<circle cx="125.40" cy="347.90" r="2.0" fill="white" stroke="#1a22e0" stroke-width="1.1"/>
<circle cx="118.60" cy="348.90" r="2.0" fill="white" stroke="#1a22e0" stroke-width="1.1"/>
<circle cx="111.20" cy="349.70" r="2.0" fill="white" stroke="#1a22e0" stroke-width="1.1"/>
<circle cx="103.60" cy="350.50" r="2.0" fill="white" stroke="#1a22e0" stroke-width="1.1"/>
<circle cx="96.20" cy="351.30" r="2.0" fill="white" stroke="#1a22e0" stroke-width="1.1"/>
<circle cx="88.70" cy="352.60" r="2.0" fill="white" stroke="#1a22e0" stroke-width="1.1"/>
<circle cx="81.10" cy="354.00" r="2.0" fill="white" stroke="#1a22e0" stroke-width="1.1"/>
<circle cx="73.40" cy="356.50" r="2.0" fill="white" stroke="#1a22e0" stroke-width="1.1"/>
<circle cx="65.80" cy="360.70" r="2.0" fill="white" stroke="#1a22e0" stroke-width="1.1"/>
<path d="M55.50,404.83 L57.00,407.53 L54.00,407.53Z" fill="#e00d15" stroke="#e00d15" stroke-width="0.6"/>
<path d="M55.53,402.63 L57.03,405.33 L54.03,405.33Z" fill="#e00d15" stroke="#e00d15" stroke-width="0.6"/>
<path d="M55.55,400.43 L57.05,403.13 L54.05,403.13Z" fill="#e00d15" stroke="#e00d15" stroke-width="0.6"/>
<path d="M55.58,398.23 L57.08,400.93 L54.08,400.93Z" fill="#e00d15" stroke="#e00d15" stroke-width="0.6"/>
<path d="M55.60,396.03 L57.10,398.73 L54.10,398.73Z" fill="#e00d15" stroke="#e00d15" stroke-width="0.6"/>
<path d="M55.62,393.83 L57.12,396.53 L54.12,396.53Z" fill="#e00d15" stroke="#e00d15" stroke-width="0.6"/>
<path d="M55.65,391.63 L57.15,394.33 L54.15,394.33Z" fill="#e00d15" stroke="#e00d15" stroke-width="0.6"/>
<path d="M55.67,389.43 L57.17,392.13 L54.17,392.13Z" fill="#e00d15" stroke="#e00d15" stroke-width="0.6"/>
<path d="M55.69,387.23 L57.19,389.93 L54.19,389.93Z" fill="#e00d15" stroke="#e00d15" stroke-width="0.6"/>
<path d="M55.73,385.03 L57.23,387.73 L54.23,387.73Z" fill="#e00d15" stroke="#e00d15" stroke-width="0.6"/>
<path d="M55.77,382.83 L57.27,385.53 L54.27,385.53Z" fill="#e00d15" stroke="#e00d15" stroke-width="0.6"/>
<path d="M55.81,380.63 L57.31,383.33 L54.31,383.33Z" fill="#e00d15" stroke="#e00d15" stroke-width="0.6"/>
<path d="M55.86,378.43 L57.36,381.13 L54.36,381.13Z" fill="#e00d15" stroke="#e00d15" stroke-width="0.6"/>
<path d="M55.90,376.23 L57.40,378.93 L54.40,378.93Z" fill="#e00d15" stroke="#e00d15" stroke-width="0.6"/>
<path d="M55.95,374.03 L57.45,376.73 L54.45,376.73Z" fill="#e00d15" stroke="#e00d15" stroke-width="0.6"/>
<path d="M55.99,371.83 L57.49,374.53 L54.49,374.53Z" fill="#e00d15" stroke="#e00d15" stroke-width="0.6"/>
<path d="M56.03,369.63 L57.53,372.33 L54.53,372.33Z" fill="#e00d15" stroke="#e00d15" stroke-width="0.6"/>
<path d="M56.08,367.43 L57.58,370.13 L54.58,370.13Z" fill="#e00d15" stroke="#e00d15" stroke-width="0.6"/>
<path d="M56.12,365.23 L57.62,367.93 L54.62,367.93Z" fill="#e00d15" stroke="#e00d15" stroke-width="0.6"/>
<path d="M56.17,363.03 L57.67,365.73 L54.67,365.73Z" fill="#e00d15" stroke="#e00d15" stroke-width="0.6"/>
<path d="M56.21,360.83 L57.71,363.53 L54.71,363.53Z" fill="#e00d15" stroke="#e00d15" stroke-width="0.6"/>
<path d="M56.25,358.63 L57.75,361.33 L54.75,361.33Z" fill="#e00d15" stroke="#e00d15" stroke-width="0.6"/>
<path d="M56.30,356.43 L57.80,359.13 L54.80,359.13Z" fill="#e00d15" stroke="#e00d15" stroke-width="0.6"/>
<path d="M56.36,354.23 L57.86,356.93 L54.86,356.93Z" fill="#e00d15" stroke="#e00d15" stroke-width="0.6"/>
<path d="M56.43,352.04 L57.93,354.74 L54.93,354.74Z" fill="#e00d15" stroke="#e00d15" stroke-width="0.6"/>
<path d="M56.49,349.84 L57.99,352.54 L54.99,352.54Z" fill="#e00d15" stroke="#e00d15" stroke-width="0.6"/>
<path d="M56.56,347.64 L58.06,350.34 L55.06,350.34Z" fill="#e00d15" stroke="#e00d15" stroke-width="0.6"/>
<path d="M56.66,345.44 L58.16,348.14 L55.16,348.14Z" fill="#e00d15" stroke="#e00d15" stroke-width="0.6"/>
<path d="M56.81,343.24 L58.31,345.94 L55.31,345.94Z" fill="#e00d15" stroke="#e00d15" stroke-width="0.6"/>
<path d="M56.95,341.05 L58.45,343.75 L55.45,343.75Z" fill="#e00d15" stroke="#e00d15" stroke-width="0.6"/>
<path d="M58.70,332.23 L60.20,334.93 L57.20,334.93Z" fill="#e00d15" stroke="#e00d15" stroke-width="0.6"/>
<path d="M60.50,326.83 L62.00,329.53 L59.00,329.53Z" fill="#e00d15" stroke="#e00d15" stroke-width="0.6"/>
<path d="M62.30,321.83 L63.80,324.53 L60.80,324.53Z" fill="#e00d15" stroke="#e00d15" stroke-width="0.6"/>
<path d="M64.20,317.33 L65.70,320.03 L62.70,320.03Z" fill="#e00d15" stroke="#e00d15" stroke-width="0.6"/>
<path d="M66.20,313.33 L67.70,316.03 L64.70,316.03Z" fill="#e00d15" stroke="#e00d15" stroke-width="0.6"/>
<path d="M68.50,309.13 L70.00,311.83 L67.00,311.83Z" fill="#e00d15" stroke="#e00d15" stroke-width="0.6"/>
<path d="M70.80,305.93 L72.30,308.63 L69.30,308.63Z" fill="#e00d15" stroke="#e00d15" stroke-width="0.6"/>
<path d="M73.30,302.93 L74.80,305.63 L71.80,305.63Z" fill="#e00d15" stroke="#e00d15" stroke-width="0.6"/>
<path d="M77.00,299.33 L78.50,302.03 L75.50,302.03Z" fill="#e00d15" stroke="#e00d15" stroke-width="0.6"/>
<path d="M81.30,296.73 L82.80,299.43 L79.80,299.43Z" fill="#e00d15" stroke="#e00d15" stroke-width="0.6"/>
<path d="M88.50,294.53 L90.00,297.23 L87.00,297.23Z" fill="#e00d15" stroke="#e00d15" stroke-width="0.6"/>
<path d="M96.50,292.73 L98.00,295.43 L95.00,295.43Z" fill="#e00d15" stroke="#e00d15" stroke-width="0.6"/>
<path d="M103.50,291.73 L105.00,294.43 L102.00,294.43Z" fill="#e00d15" stroke="#e00d15" stroke-width="0.6"/>
<path d="M110.80,291.03 L112.30,293.73 L109.30,293.73Z" fill="#e00d15" stroke="#e00d15" stroke-width="0.6"/>
<path d="M118.00,290.43 L119.50,293.13 L116.50,293.13Z" fill="#e00d15" stroke="#e00d15" stroke-width="0.6"/>
<path d="M125.50,290.03 L127.00,292.73 L124.00,292.73Z" fill="#e00d15" stroke="#e00d15" stroke-width="0.6"/>
<path d="M133.00,289.63 L134.50,292.33 L131.50,292.33Z" fill="#e00d15" stroke="#e00d15" stroke-width="0.6"/>
<path d="M140.70,289.23 L142.20,291.93 L139.20,291.93Z" fill="#e00d15" stroke="#e00d15" stroke-width="0.6"/>
<path d="M148.00,288.93 L149.50,291.63 L146.50,291.63Z" fill="#e00d15" stroke="#e00d15" stroke-width="0.6"/>
<path d="M155.50,288.73 L157.00,291.43 L154.00,291.43Z" fill="#e00d15" stroke="#e00d15" stroke-width="0.6"/>
<path d="M163.00,288.53 L164.50,291.23 L161.50,291.23Z" fill="#e00d15" stroke="#e00d15" stroke-width="0.6"/>
<path d="M170.50,288.33 L172.00,291.03 L169.00,291.03Z" fill="#e00d15" stroke="#e00d15" stroke-width="0.6"/>
<path d="M178.00,288.23 L179.50,290.93 L176.50,290.93Z" fill="#e00d15" stroke="#e00d15" stroke-width="0.6"/>
<path d="M185.20,288.13 L186.70,290.83 L183.70,290.83Z" fill="#e00d15" stroke="#e00d15" stroke-width="0.6"/>
<path d="M192.40,288.13 L193.90,290.83 L190.90,290.83Z" fill="#e00d15" stroke="#e00d15" stroke-width="0.6"/>
<path d="M200.30,287.93 L201.80,290.63 L198.80,290.63Z" fill="#e00d15" stroke="#e00d15" stroke-width="0.6"/>
<path d="M207.30,287.73 L208.80,290.43 L205.80,290.43Z" fill="#e00d15" stroke="#e00d15" stroke-width="0.6"/>
<path d="M215.20,287.43 L216.70,290.13 L213.70,290.13Z" fill="#e00d15" stroke="#e00d15" stroke-width="0.6"/>
<path d="M223.10,286.93 L224.60,289.63 L221.60,289.63Z" fill="#e00d15" stroke="#e00d15" stroke-width="0.6"/>
<path d="M230.20,285.93 L231.70,288.63 L228.70,288.63Z" fill="#e00d15" stroke="#e00d15" stroke-width="0.6"/>
<path d="M238.10,284.33 L239.60,287.03 L236.60,287.03Z" fill="#e00d15" stroke="#e00d15" stroke-width="0.6"/>
<path d="M245.20,281.93 L246.70,284.63 L243.70,284.63Z" fill="#e00d15" stroke="#e00d15" stroke-width="0.6"/>
<path d="M253.10,278.03 L254.60,280.73 L251.60,280.73Z" fill="#e00d15" stroke="#e00d15" stroke-width="0.6"/>
<path d="M260.20,270.13 L261.70,272.83 L258.70,272.83Z" fill="#e00d15" stroke="#e00d15" stroke-width="0.6"/>
<path d="M266.00,238.13 L267.50,240.83 L264.50,240.83Z" fill="#e00d15" stroke="#e00d15" stroke-width="0.6"/>
<path d="M266.00,237.62 L267.95,241.13 L264.05,241.13Z" fill="white" stroke="#e00d15" stroke-width="1.1"/>
<path d="M258.10,263.82 L260.05,267.33 L256.15,267.33Z" fill="white" stroke="#e00d15" stroke-width="1.1"/>
<path d="M249.10,273.52 L251.05,277.03 L247.15,277.03Z" fill="white" stroke="#e00d15" stroke-width="1.1"/>
<path d="M241.30,277.02 L243.25,280.53 L239.35,280.53Z" fill="white" stroke="#e00d15" stroke-width="1.1"/>
<path d="M233.40,278.62 L235.35,282.13 L231.45,282.13Z" fill="white" stroke="#e00d15" stroke-width="1.1"/>
<path d="M229.70,279.52 L231.65,283.03 L227.75,283.03Z" fill="white" stroke="#e00d15" stroke-width="1.1"/>
<path d="M222.30,280.62 L224.25,284.13 L220.35,284.13Z" fill="white" stroke="#e00d15" stroke-width="1.1"/>
<path d="M214.90,281.42 L216.85,284.93 L212.95,284.93Z" fill="white" stroke="#e00d15" stroke-width="1.1"/>
<path d="M207.30,281.72 L209.25,285.23 L205.35,285.23Z" fill="white" stroke="#e00d15" stroke-width="1.1"/>
<path d="M199.80,282.22 L201.75,285.73 L197.85,285.73Z" fill="white" stroke="#e00d15" stroke-width="1.1"/>
<path d="M192.40,282.72 L194.35,286.23 L190.45,286.23Z" fill="white" stroke="#e00d15" stroke-width="1.1"/>
<path d="M185.20,282.82 L187.15,286.33 L183.25,286.33Z" fill="white" stroke="#e00d15" stroke-width="1.1"/>
<path d="M177.90,282.82 L179.85,286.33 L175.95,286.33Z" fill="white" stroke="#e00d15" stroke-width="1.1"/>
<path d="M170.20,282.82 L172.15,286.33 L168.25,286.33Z" fill="white" stroke="#e00d15" stroke-width="1.1"/>
<path d="M162.90,282.82 L164.85,286.33 L160.95,286.33Z" fill="white" stroke="#e00d15" stroke-width="1.1"/>
<path d="M155.30,286.02 L157.25,289.53 L153.35,289.53Z" fill="white" stroke="#e00d15" stroke-width="1.1"/>
<path d="M147.60,286.02 L149.55,289.53 L145.65,289.53Z" fill="white" stroke="#e00d15" stroke-width="1.1"/>
<path d="M136.30,286.42 L138.25,289.93 L134.35,289.93Z" fill="white" stroke="#e00d15" stroke-width="1.1"/>
<path d="M133.10,286.02 L135.05,289.53 L131.15,289.53Z" fill="white" stroke="#e00d15" stroke-width="1.1"/>
<path d="M125.50,286.42 L127.45,289.93 L123.55,289.93Z" fill="white" stroke="#e00d15" stroke-width="1.1"/>
<path d="M118.00,286.42 L119.95,289.93 L116.05,289.93Z" fill="white" stroke="#e00d15" stroke-width="1.1"/>
<path d="M110.80,287.02 L112.75,290.53 L108.85,290.53Z" fill="white" stroke="#e00d15" stroke-width="1.1"/>
<path d="M103.50,288.22 L105.45,291.73 L101.55,291.73Z" fill="white" stroke="#e00d15" stroke-width="1.1"/>
<path d="M96.00,288.52 L97.95,292.03 L94.05,292.03Z" fill="white" stroke="#e00d15" stroke-width="1.1"/>
<path d="M88.50,289.92 L90.45,293.43 L86.55,293.43Z" fill="white" stroke="#e00d15" stroke-width="1.1"/>
<path d="M81.00,291.12 L82.95,294.63 L79.05,294.63Z" fill="white" stroke="#e00d15" stroke-width="1.1"/>
<path d="M73.70,296.22 L75.65,299.73 L71.75,299.73Z" fill="white" stroke="#e00d15" stroke-width="1.1"/>
<path d="M66.00,308.82 L67.95,312.33 L64.05,312.33Z" fill="white" stroke="#e00d15" stroke-width="1.1"/>
<rect x="51.3" y="231.55" width="219.14999999999998" height="176.25" fill="none" stroke="#111" stroke-width="1.45"/>
<line x1="48.099999999999994" y1="407.8" x2="51.3" y2="407.8" stroke="#111" stroke-width="1.1"/>
<line x1="48.099999999999994" y1="378.425" x2="51.3" y2="378.425" stroke="#111" stroke-width="1.1"/>
<line x1="48.099999999999994" y1="349.05" x2="51.3" y2="349.05" stroke="#111" stroke-width="1.1"/>
<line x1="48.099999999999994" y1="319.675" x2="51.3" y2="319.675" stroke="#111" stroke-width="1.1"/>
<line x1="48.099999999999994" y1="290.3" x2="51.3" y2="290.3" stroke="#111" stroke-width="1.1"/>
<line x1="48.099999999999994" y1="260.925" x2="51.3" y2="260.925" stroke="#111" stroke-width="1.1"/>
<line x1="48.099999999999994" y1="231.55" x2="51.3" y2="231.55" stroke="#111" stroke-width="1.1"/>
<line x1="49.5" y1="393.1125" x2="51.3" y2="393.1125" stroke="#111" stroke-width="1.0"/>
<line x1="49.5" y1="363.7375" x2="51.3" y2="363.7375" stroke="#111" stroke-width="1.0"/>
<line x1="49.5" y1="334.3625" x2="51.3" y2="334.3625" stroke="#111" stroke-width="1.0"/>
<line x1="49.5" y1="304.9875" x2="51.3" y2="304.9875" stroke="#111" stroke-width="1.0"/>
<line x1="49.5" y1="275.6125" x2="51.3" y2="275.6125" stroke="#111" stroke-width="1.0"/>
<line x1="49.5" y1="246.2375" x2="51.3" y2="246.2375" stroke="#111" stroke-width="1.0"/>
<text transform="translate(45.40,411.54) scale(0.96,1.1)" font-size="9.6" font-weight="bold" text-anchor="end" >0</text>
<text transform="translate(45.40,382.16) scale(0.96,1.1)" font-size="9.6" font-weight="bold" text-anchor="end" >50</text>
<text transform="translate(45.40,352.79) scale(0.96,1.1)" font-size="9.6" font-weight="bold" text-anchor="end" >100</text>
<text transform="translate(45.40,323.41) scale(0.96,1.1)" font-size="9.6" font-weight="bold" text-anchor="end" >150</text>
<text transform="translate(45.40,294.04) scale(0.96,1.1)" font-size="9.6" font-weight="bold" text-anchor="end" >200</text>
<text transform="translate(45.40,264.66) scale(0.96,1.1)" font-size="9.6" font-weight="bold" text-anchor="end" >250</text>
<text transform="translate(45.40,235.29) scale(0.96,1.1)" font-size="9.6" font-weight="bold" text-anchor="end" >300</text>
<line x1="56.1" y1="407.8" x2="56.1" y2="411.0" stroke="#111" stroke-width="1.1"/>
<line x1="98.52000000000001" y1="407.8" x2="98.52000000000001" y2="411.0" stroke="#111" stroke-width="1.1"/>
<line x1="140.94" y1="407.8" x2="140.94" y2="411.0" stroke="#111" stroke-width="1.1"/>
<line x1="183.35999999999999" y1="407.8" x2="183.35999999999999" y2="411.0" stroke="#111" stroke-width="1.1"/>
<line x1="225.78" y1="407.8" x2="225.78" y2="411.0" stroke="#111" stroke-width="1.1"/>
<line x1="268.2" y1="407.8" x2="268.2" y2="411.0" stroke="#111" stroke-width="1.1"/>
<line x1="77.31" y1="407.8" x2="77.31" y2="409.6" stroke="#111" stroke-width="1.0"/>
<line x1="119.72999999999999" y1="407.8" x2="119.72999999999999" y2="409.6" stroke="#111" stroke-width="1.0"/>
<line x1="162.15" y1="407.8" x2="162.15" y2="409.6" stroke="#111" stroke-width="1.0"/>
<line x1="204.57" y1="407.8" x2="204.57" y2="409.6" stroke="#111" stroke-width="1.0"/>
<line x1="246.98999999999998" y1="407.8" x2="246.98999999999998" y2="409.6" stroke="#111" stroke-width="1.0"/>
<text transform="translate(56.10,421.94) scale(0.96,1.1)" font-size="9.6" font-weight="bold" text-anchor="middle" >0.0</text>
<text transform="translate(98.52,421.94) scale(0.96,1.1)" font-size="9.6" font-weight="bold" text-anchor="middle" >0.2</text>
<text transform="translate(140.94,421.94) scale(0.96,1.1)" font-size="9.6" font-weight="bold" text-anchor="middle" >0.4</text>
<text transform="translate(183.36,421.94) scale(0.96,1.1)" font-size="9.6" font-weight="bold" text-anchor="middle" >0.6</text>
<text transform="translate(225.78,421.94) scale(0.96,1.1)" font-size="9.6" font-weight="bold" text-anchor="middle" >0.8</text>
<text transform="translate(268.20,421.94) scale(0.96,1.1)" font-size="9.6" font-weight="bold" text-anchor="middle" >1.0</text>
<text x="161.3" y="435.5" font-size="10.6" font-weight="bold" text-anchor="middle" textLength="122.6" lengthAdjust="spacingAndGlyphs">Relative Pressure <tspan font-weight="normal">(</tspan>P/P<tspan font-size="7" dy="2.5">0</tspan><tspan dy="-2.5" font-weight="normal">)</tspan></text>
<line x1="74.8" y1="245.5" x2="96.8" y2="245.5" stroke="#111" stroke-width="1.3"/>
<rect x="84.00" y="243.80" width="3.4" height="3.4" fill="#111" stroke="#111" stroke-width="0.6"/>
<line x1="74.8" y1="257.0" x2="96.8" y2="257.0" stroke="#1a22e0" stroke-width="1.3"/>
<circle cx="85.70" cy="257.00" r="2.0" fill="#1a22e0" stroke="#1a22e0" stroke-width="0.6"/>
<line x1="74.8" y1="269.0" x2="96.8" y2="269.0" stroke="#e00d15" stroke-width="1.3"/>
<path d="M85.70,266.93 L87.20,269.63 L84.20,269.63Z" fill="#e00d15" stroke="#e00d15" stroke-width="0.5"/>
<text x="99.1" y="249.2" font-size="9.1" font-weight="bold" text-anchor="start" >DMSN</text>
<text x="99.1" y="260.6" font-size="9.1" font-weight="bold" text-anchor="start" >DMSN@COF</text>
<text x="99.1" y="271.9" font-size="9.1" font-weight="bold" text-anchor="start" >COF HP</text>
<text x="281.2" y="238.4" font-size="13" font-weight="bold" text-anchor="start"  textLength="15.6" lengthAdjust="spacingAndGlyphs">(d)</text>
<text transform="translate(298.3,322.2) rotate(-90)" font-size="10" font-weight="bold" text-anchor="middle">dV/dD (cm<tspan font-size="6.6" dy="-4">3</tspan><tspan dy="4"> g</tspan><tspan font-size="6.6" dy="-4">-1</tspan><tspan dy="4"> nm</tspan><tspan font-size="6.6" dy="-4">-1</tspan><tspan dy="4">)</tspan></text>
<polyline points="327.6,285.3 329.1,285.3 330.6,285.3 332.1,285.3 333.6,285.3 335.1,285.3 336.6,285.3 338.1,285.3 341.8,284.6 344.5,284.4 346.0,276.3 346.9,264.4 348.7,233.7 350.0,238.4 350.8,255.0 351.6,273.1 355.0,285.6 361.8,285.6 368.9,285.6 375.2,285.6 382.3,285.6 388.6,285.6 395.0,285.7 401.0,285.8 408.3,285.8 416.2,285.8 424.3,285.8 433.6,285.8 443.8,285.8 454.6,285.8 465.6,285.8 477.9,285.8 491.2,285.8 505.8,285.8 521.5,285.8 537.8,285.8" fill="none" stroke="#e00d15" stroke-width="1.15" stroke-linejoin="round" stroke-linecap="round" />
<path d="M327.60,282.96 L329.70,286.74 L325.50,286.74Z" fill="white" stroke="#e00d15" stroke-width="1.0"/>
<path d="M329.10,282.96 L331.20,286.74 L327.00,286.74Z" fill="white" stroke="#e00d15" stroke-width="1.0"/>
<path d="M330.60,282.96 L332.70,286.74 L328.50,286.74Z" fill="white" stroke="#e00d15" stroke-width="1.0"/>
<path d="M332.10,282.96 L334.20,286.74 L330.00,286.74Z" fill="white" stroke="#e00d15" stroke-width="1.0"/>
<path d="M333.60,282.96 L335.70,286.74 L331.50,286.74Z" fill="white" stroke="#e00d15" stroke-width="1.0"/>
<path d="M335.10,282.96 L337.20,286.74 L333.00,286.74Z" fill="white" stroke="#e00d15" stroke-width="1.0"/>
<path d="M336.60,282.96 L338.70,286.74 L334.50,286.74Z" fill="white" stroke="#e00d15" stroke-width="1.0"/>
<path d="M338.10,282.96 L340.20,286.74 L336.00,286.74Z" fill="white" stroke="#e00d15" stroke-width="1.0"/>
<path d="M341.80,282.26 L343.90,286.04 L339.70,286.04Z" fill="white" stroke="#e00d15" stroke-width="1.0"/>
<path d="M344.50,282.06 L346.60,285.84 L342.40,285.84Z" fill="white" stroke="#e00d15" stroke-width="1.0"/>
<path d="M346.00,273.96 L348.10,277.74 L343.90,277.74Z" fill="white" stroke="#e00d15" stroke-width="1.0"/>
<path d="M346.90,262.06 L349.00,265.84 L344.80,265.84Z" fill="white" stroke="#e00d15" stroke-width="1.0"/>
<path d="M348.70,231.36 L350.80,235.14 L346.60,235.14Z" fill="white" stroke="#e00d15" stroke-width="1.0"/>
<path d="M350.00,236.06 L352.10,239.84 L347.90,239.84Z" fill="white" stroke="#e00d15" stroke-width="1.0"/>
<path d="M350.80,252.66 L352.90,256.44 L348.70,256.44Z" fill="white" stroke="#e00d15" stroke-width="1.0"/>
<path d="M351.60,270.76 L353.70,274.54 L349.50,274.54Z" fill="white" stroke="#e00d15" stroke-width="1.0"/>
<path d="M355.00,283.26 L357.10,287.04 L352.90,287.04Z" fill="white" stroke="#e00d15" stroke-width="1.0"/>
<path d="M361.80,283.26 L363.90,287.04 L359.70,287.04Z" fill="white" stroke="#e00d15" stroke-width="1.0"/>
<path d="M368.90,283.26 L371.00,287.04 L366.80,287.04Z" fill="white" stroke="#e00d15" stroke-width="1.0"/>
<path d="M375.20,283.26 L377.30,287.04 L373.10,287.04Z" fill="white" stroke="#e00d15" stroke-width="1.0"/>
<path d="M382.30,283.26 L384.40,287.04 L380.20,287.04Z" fill="white" stroke="#e00d15" stroke-width="1.0"/>
<path d="M388.60,283.26 L390.70,287.04 L386.50,287.04Z" fill="white" stroke="#e00d15" stroke-width="1.0"/>
<path d="M395.00,283.36 L397.10,287.14 L392.90,287.14Z" fill="white" stroke="#e00d15" stroke-width="1.0"/>
<path d="M401.00,283.46 L403.10,287.24 L398.90,287.24Z" fill="white" stroke="#e00d15" stroke-width="1.0"/>
<path d="M408.30,283.46 L410.40,287.24 L406.20,287.24Z" fill="white" stroke="#e00d15" stroke-width="1.0"/>
<path d="M416.20,283.46 L418.30,287.24 L414.10,287.24Z" fill="white" stroke="#e00d15" stroke-width="1.0"/>
<path d="M424.30,283.46 L426.40,287.24 L422.20,287.24Z" fill="white" stroke="#e00d15" stroke-width="1.0"/>
<path d="M433.60,283.46 L435.70,287.24 L431.50,287.24Z" fill="white" stroke="#e00d15" stroke-width="1.0"/>
<path d="M443.80,283.46 L445.90,287.24 L441.70,287.24Z" fill="white" stroke="#e00d15" stroke-width="1.0"/>
<path d="M454.60,283.46 L456.70,287.24 L452.50,287.24Z" fill="white" stroke="#e00d15" stroke-width="1.0"/>
<path d="M465.60,283.46 L467.70,287.24 L463.50,287.24Z" fill="white" stroke="#e00d15" stroke-width="1.0"/>
<path d="M477.90,283.46 L480.00,287.24 L475.80,287.24Z" fill="white" stroke="#e00d15" stroke-width="1.0"/>
<path d="M491.20,283.46 L493.30,287.24 L489.10,287.24Z" fill="white" stroke="#e00d15" stroke-width="1.0"/>
<path d="M505.80,283.46 L507.90,287.24 L503.70,287.24Z" fill="white" stroke="#e00d15" stroke-width="1.0"/>
<path d="M521.50,283.46 L523.60,287.24 L519.40,287.24Z" fill="white" stroke="#e00d15" stroke-width="1.0"/>
<path d="M537.80,283.46 L539.90,287.24 L535.70,287.24Z" fill="white" stroke="#e00d15" stroke-width="1.0"/>
<polyline points="324.7,339.9 328.7,341.8 333.9,343.1 337.3,343.9 339.7,344.2 343.7,344.6 346.0,343.7 347.6,313.4 349.2,292.6 351.1,322.5 352.3,345.3 355.0,345.3 367.3,345.3 374.4,345.3 383.9,345.3 395.2,345.5 408.9,343.2 428.4,343.2 436.5,343.2 485.4,341.1 538.9,345.5" fill="none" stroke="#1a22e0" stroke-width="1.15" stroke-linejoin="round" stroke-linecap="round" />
<circle cx="324.70" cy="339.90" r="1.85" fill="white" stroke="#1a22e0" stroke-width="1.0"/>
<circle cx="328.70" cy="341.80" r="1.85" fill="white" stroke="#1a22e0" stroke-width="1.0"/>
<circle cx="333.90" cy="343.10" r="1.85" fill="white" stroke="#1a22e0" stroke-width="1.0"/>
<circle cx="337.30" cy="343.90" r="1.85" fill="white" stroke="#1a22e0" stroke-width="1.0"/>
<circle cx="339.70" cy="344.20" r="1.85" fill="white" stroke="#1a22e0" stroke-width="1.0"/>
<circle cx="343.70" cy="344.60" r="1.85" fill="white" stroke="#1a22e0" stroke-width="1.0"/>
<circle cx="346.00" cy="343.70" r="1.85" fill="white" stroke="#1a22e0" stroke-width="1.0"/>
<circle cx="347.60" cy="313.40" r="1.85" fill="white" stroke="#1a22e0" stroke-width="1.0"/>
<circle cx="349.20" cy="292.60" r="1.85" fill="white" stroke="#1a22e0" stroke-width="1.0"/>
<circle cx="351.10" cy="322.50" r="1.85" fill="white" stroke="#1a22e0" stroke-width="1.0"/>
<circle cx="352.30" cy="345.30" r="1.85" fill="white" stroke="#1a22e0" stroke-width="1.0"/>
<circle cx="355.00" cy="345.30" r="1.85" fill="white" stroke="#1a22e0" stroke-width="1.0"/>
<circle cx="367.30" cy="345.30" r="1.85" fill="white" stroke="#1a22e0" stroke-width="1.0"/>
<circle cx="374.40" cy="345.30" r="1.85" fill="white" stroke="#1a22e0" stroke-width="1.0"/>
<circle cx="383.90" cy="345.30" r="1.85" fill="white" stroke="#1a22e0" stroke-width="1.0"/>
<circle cx="395.20" cy="345.50" r="1.85" fill="white" stroke="#1a22e0" stroke-width="1.0"/>
<circle cx="408.90" cy="343.20" r="1.85" fill="white" stroke="#1a22e0" stroke-width="1.0"/>
<circle cx="428.40" cy="343.20" r="1.85" fill="white" stroke="#1a22e0" stroke-width="1.0"/>
<circle cx="436.50" cy="343.20" r="1.85" fill="white" stroke="#1a22e0" stroke-width="1.0"/>
<circle cx="485.40" cy="341.10" r="1.85" fill="white" stroke="#1a22e0" stroke-width="1.0"/>
<circle cx="538.90" cy="345.50" r="1.85" fill="white" stroke="#1a22e0" stroke-width="1.0"/>
<polyline points="330.9,399.1 346.6,401.3 350.1,403.3 366.3,405.0 383.3,404.6 400.7,404.4 407.3,404.4 427.1,405.1 436.1,405.1 459.0,400.5 498.0,398.9 538.2,398.2" fill="none" stroke="#111" stroke-width="1.15" stroke-linejoin="round" stroke-linecap="round" />
<rect x="329.25" y="397.45" width="3.3" height="3.3" fill="white" stroke="#111" stroke-width="1.0"/>
<rect x="344.95" y="399.65" width="3.3" height="3.3" fill="white" stroke="#111" stroke-width="1.0"/>
<rect x="348.45" y="401.65" width="3.3" height="3.3" fill="white" stroke="#111" stroke-width="1.0"/>
<rect x="364.65" y="403.35" width="3.3" height="3.3" fill="white" stroke="#111" stroke-width="1.0"/>
<rect x="381.65" y="402.95" width="3.3" height="3.3" fill="white" stroke="#111" stroke-width="1.0"/>
<rect x="399.05" y="402.75" width="3.3" height="3.3" fill="white" stroke="#111" stroke-width="1.0"/>
<rect x="405.65" y="402.75" width="3.3" height="3.3" fill="white" stroke="#111" stroke-width="1.0"/>
<rect x="425.45" y="403.45" width="3.3" height="3.3" fill="white" stroke="#111" stroke-width="1.0"/>
<rect x="434.45" y="403.45" width="3.3" height="3.3" fill="white" stroke="#111" stroke-width="1.0"/>
<rect x="457.35" y="398.85" width="3.3" height="3.3" fill="white" stroke="#111" stroke-width="1.0"/>
<rect x="496.35" y="397.25" width="3.3" height="3.3" fill="white" stroke="#111" stroke-width="1.0"/>
<rect x="536.55" y="396.55" width="3.3" height="3.3" fill="white" stroke="#111" stroke-width="1.0"/>
<rect x="323.35" y="229.35" width="219.64999999999998" height="180.6" fill="none" stroke="#111" stroke-width="1.45"/>
<line x1="323.35" y1="289.7" x2="543.0" y2="289.7" stroke="#111" stroke-width="1.3"/>
<line x1="323.35" y1="349.7" x2="543.0" y2="349.7" stroke="#111" stroke-width="1.3"/>
<line x1="320.15000000000003" y1="285.9" x2="323.35" y2="285.9" stroke="#111" stroke-width="1.1"/>
<line x1="320.15000000000003" y1="268.7" x2="323.35" y2="268.7" stroke="#111" stroke-width="1.1"/>
<line x1="320.15000000000003" y1="251.49999999999997" x2="323.35" y2="251.49999999999997" stroke="#111" stroke-width="1.1"/>
<line x1="320.15000000000003" y1="234.29999999999998" x2="323.35" y2="234.29999999999998" stroke="#111" stroke-width="1.1"/>
<line x1="321.55" y1="277.29999999999995" x2="323.35" y2="277.29999999999995" stroke="#111" stroke-width="1.0"/>
<line x1="321.55" y1="260.09999999999997" x2="323.35" y2="260.09999999999997" stroke="#111" stroke-width="1.0"/>
<line x1="321.55" y1="242.89999999999998" x2="323.35" y2="242.89999999999998" stroke="#111" stroke-width="1.0"/>
<line x1="320.15000000000003" y1="346.0" x2="323.35" y2="346.0" stroke="#111" stroke-width="1.1"/>
<line x1="320.15000000000003" y1="325.7" x2="323.35" y2="325.7" stroke="#111" stroke-width="1.1"/>
<line x1="320.15000000000003" y1="305.4" x2="323.35" y2="305.4" stroke="#111" stroke-width="1.1"/>
<line x1="321.55" y1="335.85" x2="323.35" y2="335.85" stroke="#111" stroke-width="1.0"/>
<line x1="321.55" y1="315.55" x2="323.35" y2="315.55" stroke="#111" stroke-width="1.0"/>
<line x1="321.55" y1="295.25" x2="323.35" y2="295.25" stroke="#111" stroke-width="1.0"/>
<line x1="320.15000000000003" y1="408.0" x2="323.35" y2="408.0" stroke="#111" stroke-width="1.1"/>
<line x1="320.15000000000003" y1="386.9" x2="323.35" y2="386.9" stroke="#111" stroke-width="1.1"/>
<line x1="320.15000000000003" y1="365.8" x2="323.35" y2="365.8" stroke="#111" stroke-width="1.1"/>
<line x1="321.55" y1="397.45" x2="323.35" y2="397.45" stroke="#111" stroke-width="1.0"/>
<line x1="321.55" y1="376.35" x2="323.35" y2="376.35" stroke="#111" stroke-width="1.0"/>
<line x1="321.55" y1="355.25" x2="323.35" y2="355.25" stroke="#111" stroke-width="1.0"/>
<text transform="translate(317.60,289.64) scale(0.96,1.1)" font-size="9.6" font-weight="bold" text-anchor="end" >0.0</text>
<text transform="translate(317.60,272.44) scale(0.96,1.1)" font-size="9.6" font-weight="bold" text-anchor="end" >0.2</text>
<text transform="translate(317.60,255.24) scale(0.96,1.1)" font-size="9.6" font-weight="bold" text-anchor="end" >0.4</text>
<text transform="translate(317.60,238.04) scale(0.96,1.1)" font-size="9.6" font-weight="bold" text-anchor="end" >0.6</text>
<text transform="translate(317.60,349.74) scale(0.96,1.1)" font-size="9.6" font-weight="bold" text-anchor="end" >0.0</text>
<text transform="translate(317.60,329.44) scale(0.96,1.1)" font-size="9.6" font-weight="bold" text-anchor="end" >0.1</text>
<text transform="translate(317.60,309.14) scale(0.96,1.1)" font-size="9.6" font-weight="bold" text-anchor="end" >0.2</text>
<text transform="translate(317.60,411.74) scale(0.96,1.1)" font-size="9.6" font-weight="bold" text-anchor="end" >0.00</text>
<text transform="translate(317.60,390.64) scale(0.96,1.1)" font-size="9.6" font-weight="bold" text-anchor="end" >0.10</text>
<text transform="translate(317.60,369.54) scale(0.96,1.1)" font-size="9.6" font-weight="bold" text-anchor="end" >0.20</text>
<line x1="335.55" y1="409.95" x2="335.55" y2="413.15" stroke="#111" stroke-width="1.1"/>
<line x1="359.95000000000005" y1="409.95" x2="359.95000000000005" y2="413.15" stroke="#111" stroke-width="1.1"/>
<line x1="384.35" y1="409.95" x2="384.35" y2="413.15" stroke="#111" stroke-width="1.1"/>
<line x1="408.75" y1="409.95" x2="408.75" y2="413.15" stroke="#111" stroke-width="1.1"/>
<line x1="433.15000000000003" y1="409.95" x2="433.15000000000003" y2="413.15" stroke="#111" stroke-width="1.1"/>
<line x1="457.55" y1="409.95" x2="457.55" y2="413.15" stroke="#111" stroke-width="1.1"/>
<line x1="481.95000000000005" y1="409.95" x2="481.95000000000005" y2="413.15" stroke="#111" stroke-width="1.1"/>
<line x1="506.35" y1="409.95" x2="506.35" y2="413.15" stroke="#111" stroke-width="1.1"/>
<line x1="530.75" y1="409.95" x2="530.75" y2="413.15" stroke="#111" stroke-width="1.1"/>
<line x1="347.75" y1="409.95" x2="347.75" y2="411.75" stroke="#111" stroke-width="1.0"/>
<line x1="372.15000000000003" y1="409.95" x2="372.15000000000003" y2="411.75" stroke="#111" stroke-width="1.0"/>
<line x1="396.55" y1="409.95" x2="396.55" y2="411.75" stroke="#111" stroke-width="1.0"/>
<line x1="420.95000000000005" y1="409.95" x2="420.95000000000005" y2="411.75" stroke="#111" stroke-width="1.0"/>
<line x1="445.35" y1="409.95" x2="445.35" y2="411.75" stroke="#111" stroke-width="1.0"/>
<line x1="469.75" y1="409.95" x2="469.75" y2="411.75" stroke="#111" stroke-width="1.0"/>
<line x1="494.15" y1="409.95" x2="494.15" y2="411.75" stroke="#111" stroke-width="1.0"/>
<line x1="518.55" y1="409.95" x2="518.55" y2="411.75" stroke="#111" stroke-width="1.0"/>
<text transform="translate(335.55,423.14) scale(0.96,1.1)" font-size="9.6" font-weight="bold" text-anchor="middle" >2</text>
<text transform="translate(359.95,423.14) scale(0.96,1.1)" font-size="9.6" font-weight="bold" text-anchor="middle" >4</text>
<text transform="translate(384.35,423.14) scale(0.96,1.1)" font-size="9.6" font-weight="bold" text-anchor="middle" >6</text>
<text transform="translate(408.75,423.14) scale(0.96,1.1)" font-size="9.6" font-weight="bold" text-anchor="middle" >8</text>
<text transform="translate(433.15,423.14) scale(0.96,1.1)" font-size="9.6" font-weight="bold" text-anchor="middle" >10</text>
<text transform="translate(457.55,423.14) scale(0.96,1.1)" font-size="9.6" font-weight="bold" text-anchor="middle" >12</text>
<text transform="translate(481.95,423.14) scale(0.96,1.1)" font-size="9.6" font-weight="bold" text-anchor="middle" >14</text>
<text transform="translate(506.35,423.14) scale(0.96,1.1)" font-size="9.6" font-weight="bold" text-anchor="middle" >16</text>
<text transform="translate(530.75,423.14) scale(0.96,1.1)" font-size="9.6" font-weight="bold" text-anchor="middle" >18</text>
<text x="429.5" y="434.6" font-size="10" font-weight="bold" text-anchor="middle" >Pore Width (nm)</text>
<line x1="437.3" y1="246" x2="457.3" y2="246" stroke="#e00d15" stroke-width="1.3"/>
<path d="M447.50,243.99 L449.30,247.23 L445.70,247.23Z" fill="white" stroke="#e00d15" stroke-width="1.0"/>
<text x="459.4" y="249.3" font-size="9.1" font-weight="bold" text-anchor="start"  textLength="31.8" lengthAdjust="spacingAndGlyphs">COF HP</text>
<line x1="436.2" y1="301.6" x2="455.5" y2="301.6" stroke="#1a22e0" stroke-width="1.3"/>
<circle cx="445.60" cy="301.60" r="1.7" fill="white" stroke="#1a22e0" stroke-width="1.0"/>
<text x="457.6" y="305.0" font-size="9.1" font-weight="bold" text-anchor="start"  textLength="50.3" lengthAdjust="spacingAndGlyphs">DMSN@COF</text>
<line x1="436.1" y1="364.3" x2="455.5" y2="364.3" stroke="#111" stroke-width="1.3"/>
<rect x="444.55" y="362.85" width="2.9" height="2.9" fill="white" stroke="#111" stroke-width="1.0"/>
<text x="457.6" y="367.0" font-size="9.1" font-weight="bold" text-anchor="start"  textLength="24.6" lengthAdjust="spacingAndGlyphs">DMSN</text>
</svg>
</body></html>
